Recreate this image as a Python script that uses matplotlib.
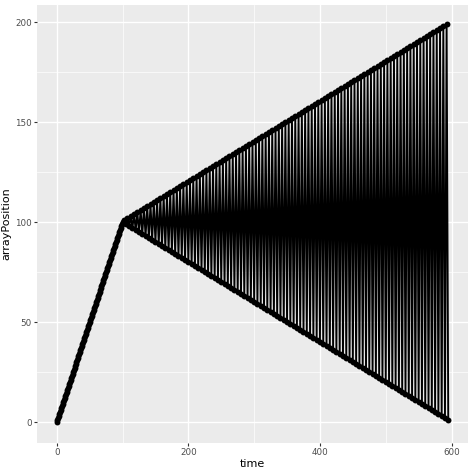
import numpy as np
import matplotlib
matplotlib.use("Agg")
import matplotlib.pyplot as plt

# ramp from the start up to the middle of the array
ramp_time = np.arange(0, 101)
ramp_pos = np.arange(0, 101)

# alternating search around position 100
upper_pos = np.arange(101, 200)
lower_pos = np.arange(99, 0, -1)
cycle_time = np.arange(105, 600, 5)

x_ticks = [0, 200, 400, 600]
y_ticks = [0, 50, 100, 150, 200]

zz_time = np.empty(2 * len(cycle_time))
zz_pos = np.empty(2 * len(cycle_time))
zz_time[0::2] = cycle_time - 2.5
zz_time[1::2] = cycle_time
zz_pos[0::2] = upper_pos
zz_pos[1::2] = lower_pos

time = np.concatenate([ramp_time, zz_time])
pos = np.concatenate([ramp_pos, zz_pos])

fig = plt.figure(figsize=(4.74, 4.74), dpi=100)
ax = fig.add_axes([37 / 474, 31 / 474, 431 / 474, 438 / 474])
ax.set_facecolor("#EBEBEB")

ax.plot(time, pos, color="black", linewidth=1.35, zorder=3)
ax.scatter(time, pos, s=18, color="black", linewidths=0, zorder=4)

ax.set_xlim(-30, 625)
ax.set_ylim(-10.3, 208.5)
ax.set_xticks(x_ticks)
ax.set_yticks(y_ticks)
ax.set_xticks([100, 300, 500], minor=True)
ax.set_yticks([25, 75, 125, 175], minor=True)
ax.grid(True, which="major", color="white", linewidth=1.0)
ax.grid(True, which="minor", color="white", linewidth=0.5)
ax.set_axisbelow(True)
for s in ax.spines.values():
    s.set_visible(False)
ax.tick_params(which="major", length=2.2, width=0.8, color="#333333",
               labelsize=6.3, labelcolor="#4D4D4D", pad=1.5)
ax.tick_params(which="minor", length=0)

ax.set_xlabel("time", fontsize=8, labelpad=1)
ax.set_ylabel("arrayPosition", fontsize=8, labelpad=3)

fig.savefig("out.png", dpi=100)
